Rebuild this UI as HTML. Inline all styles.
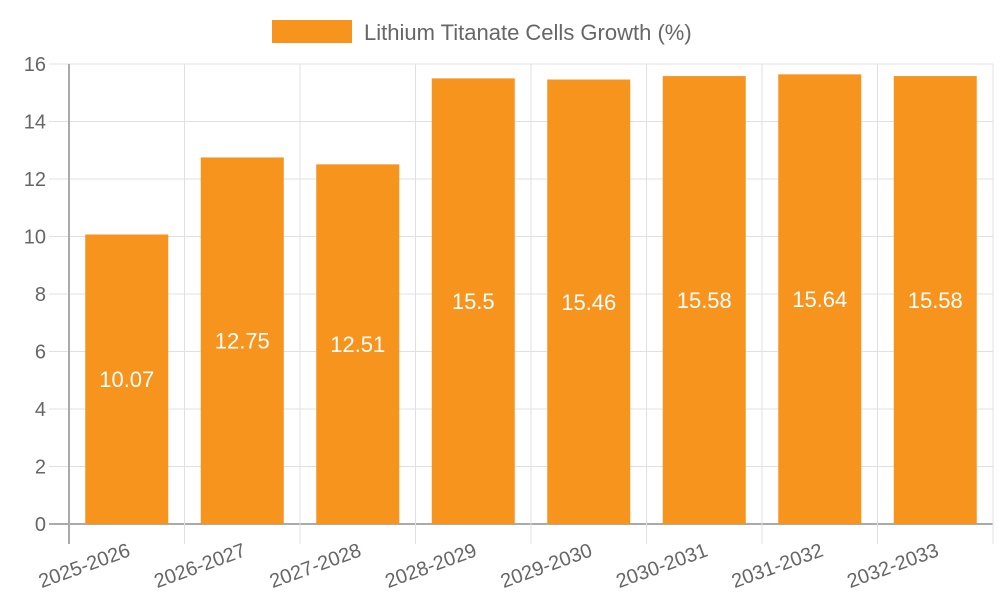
<!DOCTYPE html>
<html><head><meta charset="utf-8"><style>
body{margin:0;background:#fff;}
svg{font-family:"Liberation Sans",sans-serif;}
</style></head><body>
<svg id="c" width="1000" height="600">
<g>
<rect x="272" y="20" width="80" height="23" fill="#f7941d"/>
<text x="364" y="40" font-size="22" fill="#666">Lithium Titanate Cells Growth (%)</text>
</g>
<g id="grid"></g><g id="bars"></g><g id="labels"></g>
</svg>
<script>
const categories=["2025-2026","2026-2027","2027-2028","2028-2029","2029-2030","2030-2031","2031-2032","2032-2033"];
const values=[10.07,12.75,12.51,15.5,15.46,15.58,15.64,15.58];
const yTicks=[0,2,4,6,8,10,12,14,16];
const NS="http://www.w3.org/2000/svg";
const L=69,R=993,T=64,B=524,yMax=16;
const y=v=>B-(v/yMax)*(B-T);
const bw=(R-L)/categories.length;
const x=i=>L+i*bw;
function mk(t,a,p){const e=document.createElementNS(NS,t);for(const k in a)e.setAttribute(k,a[k]);p.appendChild(e);return e;}
const grid=document.getElementById('grid'),bars=document.getElementById('bars'),labels=document.getElementById('labels');
yTicks.forEach(v=>{
 const g=mk('line',{x1:49,x2:R,y1:y(v),y2:y(v),stroke:v===0?'#aaa':'#e0e0e0','stroke-width':v===0?2:1},grid);
 
 
 const t=mk('text',{x:46,y:y(v)+7,'text-anchor':'end','font-size':20,fill:'#666'},labels);
 t.textContent=v;
 
 
});
for(let i=0;i<=categories.length;i++){
 const g=mk('line',{x1:x(i),x2:x(i),y1:T,y2:544,stroke:i===0?'#aaa':'#e0e0e0','stroke-width':i===0?2:1},grid);
 
 
}
categories.forEach((c,i)=>{
 const cx=x(i)+bw/2,w=83;
 const r=mk('rect',{x:cx-w/2,y:y(values[i]),width:w,height:B-y(values[i]),fill:'#f7941d'},bars);
 
 
 const v=mk('text',{x:cx,y:(y(values[i])+B)/2+8,'text-anchor':'middle','font-size':22,fill:'#fff'},labels);
 v.textContent=values[i];
 
 
 const t=mk('text',{x:cx+2,y:556,'text-anchor':'end','font-size':20,fill:'#666',transform:`rotate(-20 ${cx+2} 548)`},labels);
 t.textContent=c;
 
 
});
</script>
</body></html>
